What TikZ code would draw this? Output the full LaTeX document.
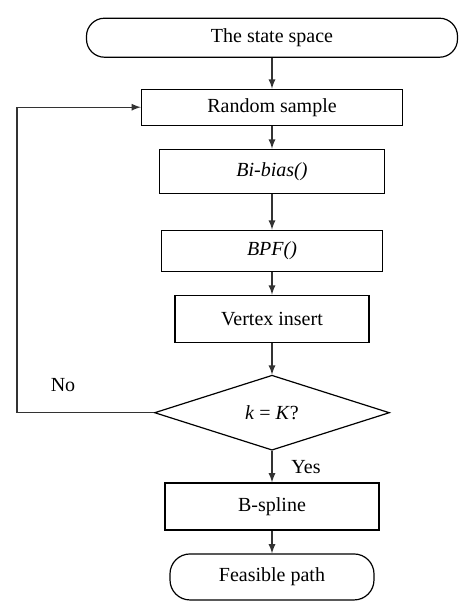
\documentclass[tikz,border=0pt]{standalone}
\usepackage{fontspec}
\setmainfont{Liberation Serif}
\usetikzlibrary{shapes, calc, arrows, positioning}

\tikzset{
    box/.style={draw, inner sep=2pt, minimum height=18pt},
    terminal/.style={draw, rounded corners=9pt, inner sep=2pt},
    decision/.style={draw, diamond, inner sep=0pt, minimum width=117.5pt, minimum height=37.5pt},
}

\begin{document}
\begin{tikzpicture}[>=latex, font=\normalsize, line width=0.6pt, draw=black!80]
\useasboundingbox (0,0) rectangle (237pt,-308pt);
\matrix (flow) [row sep=11.4pt, inner sep=0pt, anchor=north] at (136pt,-8.5pt) {
    \node[terminal, minimum width=185.5pt, minimum height=19.5pt] (state) {The state space}; \\[4pt]
    \node[box, minimum width=130.5pt, minimum height=18pt] (random) {Random sample}; \\
    \node[box, minimum width=112.5pt, minimum height=22pt] (bias) {\textit{Bi-bias()}}; \\[6.5pt]
    \node[box, minimum width=110.5pt, minimum height=20.5pt] (bpf) {\textit{BPF()}}; \\
    \node[box, minimum width=97pt, minimum height=23.5pt] (vertex) {Vertex insert}; \\[4.5pt]
    \node[decision] (test) {\textit{k} = \textit{K}?}; \\[4.5pt]
    \node[box, minimum width=107pt, minimum height=23.5pt] (spline) {B-spline}; \\
    \node[terminal, minimum width=102pt, minimum height=23pt, rounded corners=10pt] (path) {Feasible path}; \\
};
\coordinate (loop) at (8.5pt,0);
\draw[->] (state) -- (random);
\draw[->] (random) -- (bias);
\draw[->] (bias) -- (bpf);
\draw[->] (bpf) -- (vertex);
\draw[->] (vertex) -- (test);
\draw[->] (test) -- (spline);
\draw[->] (spline) -- (path);
\draw[->] (test.west) -- (loop |- test.west) |- (random.west);

\node (no) at (31.5pt,-192.5pt) {No};
\node (yes) at (153pt,-233.5pt) {Yes};

\end{tikzpicture}
\end{document}
